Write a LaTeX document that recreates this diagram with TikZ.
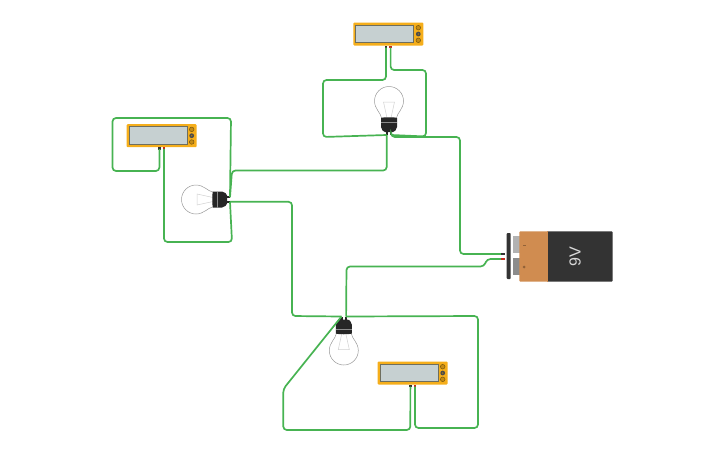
\documentclass[tikz,border=0pt]{standalone}
\usepackage{fontspec}
\setmainfont{Liberation Sans}
\definecolor{wire}{HTML}{47B352}
\definecolor{mOrange}{HTML}{F5AE1B}
\definecolor{mScreen}{HTML}{C6D0D1}
\definecolor{mEdge}{HTML}{6E6E5E}
\definecolor{batO}{HTML}{D08C50}
\definecolor{batD}{HTML}{333333}
\definecolor{termR}{HTML}{C42A1E}
\tikzset{
  x=1pt,y=-1pt,
  wirestyle/.style={draw=wire,line width=1.7pt,rounded corners=3.5pt},
  glass/.style={draw=black!40,line width=0.5pt,fill=white},
  fil/.style={draw=black!18,line width=0.5pt},
  pics/meter/.style={code={
    \fill[mOrange,rounded corners=1pt] (-35,-11.5) rectangle (35,11.5);
    \draw[mEdge,fill=mScreen,line width=0.9pt] (-32.5,-9) rectangle (25.5,8.5);
    \foreach \k in {-6.3,6.3}{\draw[black!50!mOrange,fill=mOrange!80!black,line width=0.5pt] (30,\k) circle (2.3);}
    \fill[black!70] (30,0) circle (2.4);
    \fill[mOrange!70!black] (30,0) circle (0.8);
    \coordinate (-k) at (-2.3,13.5);
    \coordinate (-r) at (2.3,13.5);
    \fill[black!80] (-3.6,11.5) rectangle (-1,14);
    \fill[termR] (1,11.5) rectangle (3.6,14);
  }},
  pics/bulb/.style={code={
    \draw[glass] (-7.5,-17) .. controls (-8,-22) and (-14.5,-26) .. (-14.5,-34)
      .. controls (-14.5,-42) and (-8,-48.5) .. (0,-48.5)
      .. controls (8,-48.5) and (14.5,-42) .. (14.5,-34)
      .. controls (14.5,-26) and (8,-22) .. (7.5,-17) -- cycle;
    \draw[fil] (-2,-17) -- (-5.5,-33) -- (5.5,-33) -- (2,-17);
    \fill[black!85] (-8,-17) .. controls (-6,-18) and (6,-18) .. (8,-17)
      -- (8,-8) .. controls (8,-5) and (5,-3) .. (4,-3) -- (-4,-3)
      .. controls (-5,-3) and (-8,-5) .. (-8,-8) -- cycle;
    \draw[black!45,line width=0.4pt] (-8,-13) -- (8,-13);
    \fill[black!85] (-3.4,-4) rectangle (-1.2,0);
    \fill[black!85] (1.2,-4) rectangle (3.4,0);
    \coordinate (-a) at (-2.3,0);
    \coordinate (-b) at (2.3,0);
  }}
}
\begin{document}
\begin{tikzpicture}
\useasboundingbox (0,0) rectangle (725,453);
% battery
\fill[black!30] (512.7,236) rectangle (519.5,253);
\fill[black!45] (512.7,258) rectangle (519.5,275);
\fill[batD,rounded corners=0.8pt] (506.7,233) rectangle (510.7,279);
\fill[batO,rounded corners=1pt] (519.3,231.3) rectangle (548,281.7);
\fill[batD,rounded corners=1pt] (547,231.3) rectangle (612.7,281.7);
\fill[batO] (547,231.3) rectangle (547.3,281.7);
\fill[batO!70!black] (522.5,244.5) rectangle (525.5,245.5);
\fill[batO!70!black] (524,267) circle (1.5);
\node[rotate=90,text=black!15,font=\fontsize{16}{16}\selectfont,inner sep=0pt] (lbl) at (575,256.5) {9V};
\coordinate (batK) at (504,254);
\coordinate (batR) at (504,259);
% bulbs and meters
\pic (b1) at (389,135) {bulb};
\pic[rotate=90] (b2) at (230,199.5) {bulb};
\pic[rotate=180] (b3) at (343.8,316.5) {bulb};
\pic (m1) at (388.3,34) {meter};
\pic (m2) at (161.7,135.7) {meter};
\pic (m3) at (412.7,373) {meter};
% wires
\begin{scope}[wirestyle]
\draw (m1-k) -- (m1-k |- 0,80) -- (323,80) -- (323,137) -- (b1-a);
\draw (m1-r) -- (m1-r |- 0,70) -- (426,70) -- (426,136.5) -- (b1-b);
\draw (b1-a) -- (b1-a |- 0,170.5) -- (232,170.5) -- (b2-b);
\draw (b1-b) -- ([yshift=-2pt]b1-b) -- (460,137) -- (460,254) -- (batK);
\draw (m2-k) -- (m2-k |- 0,171) -- (112.5,171) -- (112.5,118) -- (231,118) -- (b2-b);
\draw (m2-r) -- (m2-r |- 0,242) -- (232,242) -- (b2-a);
\draw (b2-a) -- (292,201.8) -- (292,316) -- (b3-b);
\draw (batR) -- (487,259) -- (484,266.5) -- (346.5,266.5) -- (b3-a);
\draw (b3-b) -- (283.3,389) -- (283.3,430) -- (410.3,430) -- (m3-k);
\draw (m3-r) -- (m3-r |- 0,428) -- (478,428) -- (478,316) -- (b3-a);
\end{scope}
\fill[black!80] (501,253) rectangle (505,255.2);
\fill[termR] (501,258) rectangle (505,260.2);
\end{tikzpicture}
\end{document}
